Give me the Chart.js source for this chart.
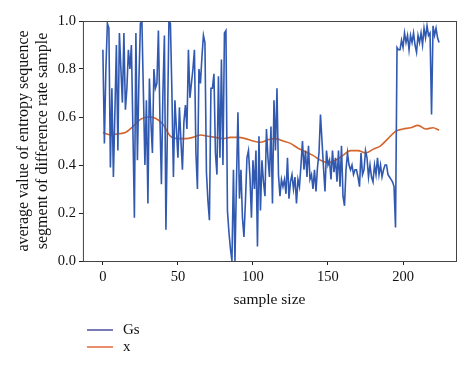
<!DOCTYPE html>
<html lang="en">
<head>
  <meta charset="UTF-8">
  <title>Entropy sequence chart</title>
  <style>
    body { margin: 0; background: #ffffff; }
    .wrap { width: 474px; height: 367px; }
  </style>
</head>
<body>
  <div class="wrap"><canvas id="entropyChart" width="474" height="367"></canvas></div>

  <script src="https://cdn.jsdelivr.net/npm/chart.js"></script>
  <script>
    // Gs: one value per sample index 0..224
    const gsValues = [
      0.88, 0.49, 0.80, 0.99, 0.97, 0.39, 0.72, 0.35, 0.62, 0.90,
      0.46, 0.95, 0.80, 0.66, 0.95, 0.63, 0.72, 0.88, 0.80, 0.90,
      0.55, 0.18, 0.95, 0.42, 0.75, 0.99, 1.00, 0.70, 0.40, 0.67,
      0.24, 0.76, 0.58, 0.45, 0.80, 0.72, 0.74, 0.96, 0.60, 0.32,
      0.70, 0.94, 0.13, 0.55, 1.00, 0.99, 0.70, 0.35, 0.67, 0.55,
      0.43, 0.64, 0.50, 0.38, 0.58, 0.65, 0.55, 0.88, 0.68, 0.74,
      0.80, 0.88, 0.45, 0.30, 0.80, 0.74, 0.85, 0.94, 0.91, 0.37,
      0.25, 0.17, 0.72, 0.72, 0.78, 0.45, 0.36, 0.77, 0.43, 0.84,
      0.40, 0.95, 0.96, 0.21, 0.12, 0.05, 0.00, 0.38, 0.00, 0.33,
      0.62, 0.26, 0.38, 0.18, 0.10, 0.25, 0.43, 0.46, 0.35, 0.18,
      0.42, 0.30, 0.46, 0.06, 0.52, 0.21, 0.42, 0.33, 0.27, 0.55,
      0.43, 0.35, 0.56, 0.24, 0.67, 0.46, 0.72, 0.36, 0.27, 0.34,
      0.31, 0.34, 0.28, 0.43, 0.26, 0.33, 0.36, 0.30, 0.35, 0.24,
      0.34, 0.31, 0.40, 0.50, 0.38, 0.46, 0.35, 0.48, 0.34, 0.36,
      0.30, 0.38, 0.29, 0.39, 0.45, 0.61, 0.50, 0.39, 0.29, 0.46,
      0.40, 0.42, 0.34, 0.46, 0.37, 0.43, 0.33, 0.46, 0.31, 0.48,
      0.27, 0.23, 0.38, 0.45, 0.40, 0.38, 0.40, 0.36, 0.38, 0.38,
      0.35, 0.31, 0.45, 0.36, 0.38, 0.46, 0.43, 0.35, 0.40, 0.35,
      0.33, 0.40, 0.36, 0.43, 0.36, 0.40, 0.35, 0.38, 0.40, 0.40,
      0.36, 0.35, 0.34, 0.33, 0.31, 0.14, 0.89, 0.88, 0.88, 0.92,
      0.89, 0.95, 0.91, 0.94, 0.88, 0.94, 0.91, 0.95, 0.90, 0.87,
      0.94, 0.91, 0.95, 0.90, 0.97, 0.93, 0.98, 0.94, 0.95, 0.61,
      0.98, 0.94, 0.97, 0.93, 0.91
    ];

    // x: smooth curve, read every 5 samples
    const xSamples = [0, 5, 10, 15, 20, 25, 30, 35, 40, 45, 50, 55, 60, 65, 70, 75, 80, 85, 90, 95,
      100, 105, 110, 115, 120, 125, 130, 135, 140, 145, 150, 155, 160, 165, 170, 175, 180, 185, 190, 195,
      200, 205, 210, 215, 220, 224];
    const xValues = [0.535, 0.525, 0.53, 0.535, 0.56, 0.59, 0.60, 0.595, 0.57, 0.52, 0.51, 0.51, 0.515, 0.525, 0.52, 0.515, 0.51, 0.515, 0.515, 0.51,
      0.50, 0.495, 0.505, 0.51, 0.50, 0.49, 0.47, 0.455, 0.44, 0.42, 0.41, 0.42, 0.44, 0.46, 0.46, 0.45, 0.465, 0.48, 0.51, 0.54,
      0.55, 0.555, 0.565, 0.55, 0.555, 0.545];

    const xTicks = [0, 50, 100, 150, 200];
    const yTicks = [0.0, 0.2, 0.4, 0.6, 0.8, 1.0];

    const serif = "'Liberation Serif', 'DejaVu Serif', serif";
    const gsColor = '#3159b0';
    const xColor = '#d4652b';

    // frame round the plot + the legend under it (matplotlib look)
    const framePlugin = {
      id: 'frame',
      afterDraw(chart) {
        const { ctx, chartArea: a } = chart;
        ctx.save();
        ctx.strokeStyle = '#444';
        ctx.lineWidth = 1;
        ctx.strokeRect(a.left + 0.5, a.top + 0.5, a.right - a.left, a.bottom - a.top);

        const rows = [
          { label: chart.data.datasets[0].label, color: '#4b4f9c', y: 330 },
          { label: chart.data.datasets[1].label, color: '#e0693a', y: 347 }
        ];
        ctx.font = '15px ' + serif;
        ctx.textBaseline = 'middle';
        rows.forEach(r => {
          ctx.strokeStyle = r.color;
          ctx.lineWidth = 1.5;
          ctx.beginPath();
          ctx.moveTo(87, r.y);
          ctx.lineTo(113, r.y);
          ctx.stroke();
          ctx.fillStyle = '#111';
          ctx.fillText(r.label, 123, r.y);
        });
        ctx.restore();
      }
    };

    new Chart(document.getElementById('entropyChart'), {
      type: 'line',
      data: {
        datasets: [{
          label: 'Gs',
          data: gsValues.map((v, i) => ({ x: i, y: v })),
          borderColor: gsColor,
          borderWidth: 1.6,
          pointRadius: 0,
          tension: 0
        }, {
          label: 'x',
          data: xSamples.map((s, i) => ({ x: s, y: xValues[i] })),
          borderColor: xColor,
          borderWidth: 1.6,
          pointRadius: 0,
          cubicInterpolationMode: 'monotone'
        }]
      },
      options: {
        responsive: false,
        animation: false,
        layout: { padding: { left: 15, right: 18, top: 21, bottom: 54 } },
        plugins: { legend: { display: false }, tooltip: { enabled: false } },
        scales: {
          x: {
            type: 'linear',
            min: -13.3,
            max: 235.3,
            afterBuildTicks: axis => { axis.ticks = xTicks.map(v => ({ value: v })); },
            grid: { display: true, drawOnChartArea: false, drawTicks: true, tickLength: 4, color: '#222' },
            border: { display: false },
            ticks: { color: '#111', font: { family: serif, size: 14.5 }, padding: 3 },
            title: { display: true, text: 'sample size', color: '#111', font: { family: serif, size: 15.5 }, padding: { top: 2 } }
          },
          y: {
            min: 0,
            max: 1,
            afterBuildTicks: axis => { axis.ticks = yTicks.map(v => ({ value: v })); },
            grid: { display: true, drawOnChartArea: false, drawTicks: true, tickLength: 4, color: '#222' },
            border: { display: false },
            ticks: { color: '#111', font: { family: serif, size: 14.5 }, padding: 3, callback: v => v.toFixed(1) },
            title: {
              display: true,
              text: ['average value of entropy sequence', 'segment of difference rate sample'],
              color: '#111',
              font: { family: serif, size: 16, lineHeight: 1.15 },
              padding: { top: 0, bottom: 3 }
            }
          }
        }
      },
      plugins: [framePlugin]
    });
  </script>
</body>
</html>
